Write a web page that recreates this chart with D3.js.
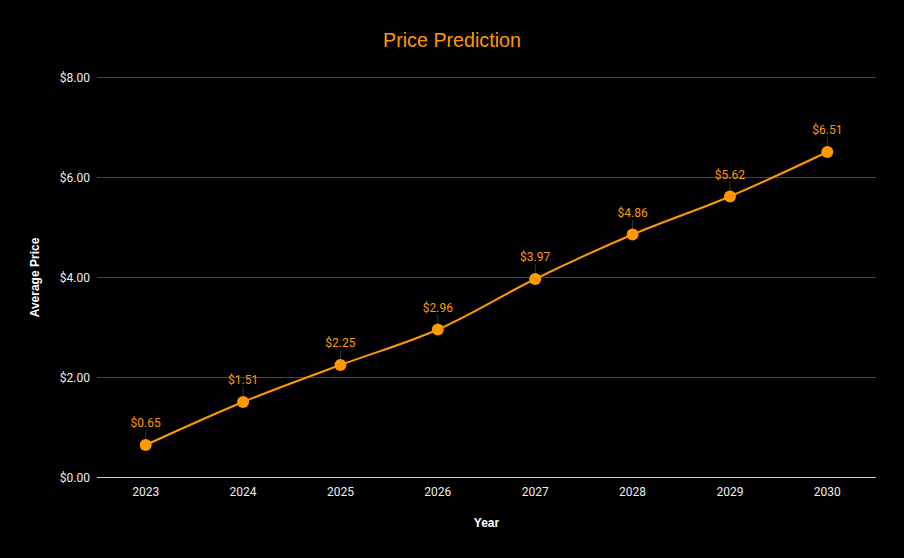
<!DOCTYPE html>
<html>
<head>
<meta charset="utf-8">
<script src="https://cdn.jsdelivr.net/npm/d3@7"></script>
<style>
  html, body { margin: 0; padding: 0; background: #000; }
  svg { display: block; }
</style>
</head>
<body>
<div id="chart"></div>
<script>
// chart data
const years = ["2023", "2024", "2025", "2026", "2027", "2028", "2029", "2030"];
const prices = [0.65, 1.51, 2.25, 2.96, 3.97, 4.86, 5.62, 6.51];
const yTicks = [0, 2, 4, 6, 8];

const width = 904, height = 558;
const margin = { top: 77.5, right: 28, bottom: 80.5, left: 97 };
const orange = "#ff9900";

const svg = d3.select("#chart").append("svg")
    .attr("width", width)
    .attr("height", height)
    .style("background", "#000");

const x = d3.scaleBand().domain(years).range([margin.left, width - margin.right]);
const y = d3.scaleLinear().domain([0, 8]).range([height - margin.bottom, margin.top]);
const fmt = d => "$" + d3.format(".2f")(d);

// gridlines
svg.append("g")
    .selectAll("line")
    .data(yTicks.filter(d => d > 0))
    .enter().append("line")
    .attr("x1", margin.left).attr("x2", width - margin.right)
    .attr("y1", d => y(d)).attr("y2", d => y(d))
    .attr("stroke", "#444").attr("stroke-width", 1);

// baseline
svg.append("line")
    .attr("x1", margin.left).attr("x2", width - margin.right)
    .attr("y1", y(0)).attr("y2", y(0))
    .attr("stroke", "#ccc").attr("stroke-width", 1);

// y tick labels
svg.append("g")
    .selectAll("text")
    .data(yTicks)
    .enter().append("text")
    .attr("x", margin.left - 7)
    .attr("y", d => y(d))
    .attr("dy", "0.35em")
    .attr("text-anchor", "end")
    .attr("font-family", "Roboto, sans-serif")
    .attr("font-size", "12px")
    .attr("fill", "#eee")
    .text(fmt);

// x tick labels
svg.append("g")
    .selectAll("text")
    .data(years)
    .enter().append("text")
    .attr("x", d => x(d) + x.bandwidth() / 2)
    .attr("y", y(0) + 14)
    .attr("dy", "0.35em")
    .attr("text-anchor", "middle")
    .attr("font-family", "Roboto, sans-serif")
    .attr("font-size", "12px")
    .attr("fill", "#eee")
    .text(d => d);

// title + axis titles
svg.append("text")
    .attr("x", width / 2).attr("y", 47)
    .attr("text-anchor", "middle")
    .attr("font-family", "Liberation Sans, Arial, sans-serif")
    .attr("font-size", "19.7px")
    .attr("fill", orange)
    .text("Price Prediction");

svg.append("text")
    .attr("x", (margin.left + width - margin.right) / 2).attr("y", 527)
    .attr("text-anchor", "middle")
    .attr("font-family", "Liberation Sans, Arial, sans-serif")
    .attr("font-size", "12px")
    .attr("font-weight", "bold")
    .attr("fill", "#fff")
    .text("Year");

svg.append("text")
    .attr("transform", `translate(39, ${(y(0) + y(8)) / 2}) rotate(-90)`)
    .attr("text-anchor", "middle")
    .attr("font-family", "Liberation Sans, Arial, sans-serif")
    .attr("font-size", "12px")
    .attr("font-weight", "bold")
    .attr("fill", "#fff")
    .text("Average Price");

const pts = years.map((yr, i) => ({ year: yr, value: prices[i] }));
const cx = d => x(d.year) + x.bandwidth() / 2;

// leader lines from labels to points
svg.append("g")
    .selectAll("line")
    .data(pts)
    .enter().append("line")
    .attr("x1", cx).attr("x2", cx)
    .attr("y1", d => y(d.value) - 15).attr("y2", d => y(d.value))
    .attr("stroke", "#333").attr("stroke-width", 1);

// line
const line = d3.line()
    .x(cx)
    .y(d => y(d.value))
    .curve(d3.curveMonotoneX);

svg.append("path")
    .datum(pts)
    .attr("d", line)
    .attr("fill", "none")
    .attr("stroke", orange)
    .attr("stroke-width", 2);

// points
svg.append("g")
    .selectAll("circle")
    .data(pts)
    .enter().append("circle")
    .attr("cx", cx)
    .attr("cy", d => y(d.value))
    .attr("r", 6)
    .attr("fill", orange);

// value labels
svg.append("g")
    .selectAll("text")
    .data(pts)
    .enter().append("text")
    .attr("x", cx)
    .attr("y", d => y(d.value) - 22)
    .attr("dy", "0.35em")
    .attr("text-anchor", "middle")
    .attr("font-family", "Roboto, sans-serif")
    .attr("font-size", "12px")
    .attr("fill", orange)
    .text(d => fmt(d.value));
</script>
</body>
</html>
